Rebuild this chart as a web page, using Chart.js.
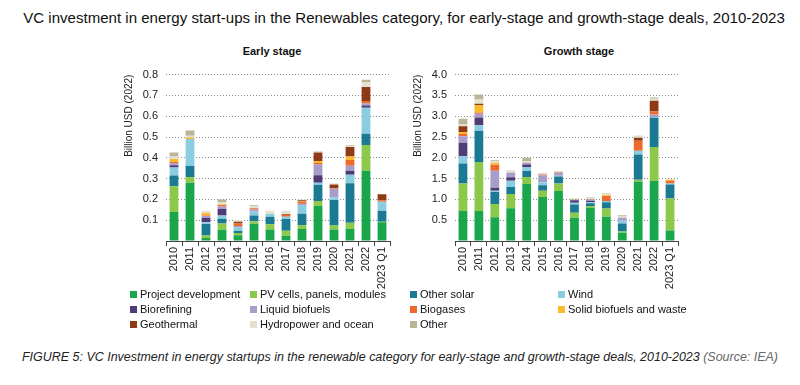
<!DOCTYPE html>
<html><head><meta charset="utf-8">
<script src="https://cdn.jsdelivr.net/npm/chart.js@4/dist/chart.umd.min.js"></script>
<style>
html,body{margin:0;padding:0;background:#fff;width:800px;height:385px;overflow:hidden;font-family:"Liberation Sans",Arial,sans-serif;}
#title{position:absolute;left:0;top:9px;width:808px;text-align:center;font-size:17px;color:#111;white-space:nowrap;}
.sub{position:absolute;top:45px;font-size:11px;font-weight:bold;color:#111;white-space:nowrap;transform:translateX(-50%);}
.cw{position:absolute;}
.lg{position:absolute;font-size:11px;color:#111;white-space:nowrap;line-height:13px;}
.lg i{display:inline-block;width:7px;height:7px;margin-right:3px;vertical-align:0px;}
#cap{position:absolute;left:22px;top:350px;font-size:12.5px;font-style:italic;white-space:nowrap;color:#222;transform-origin:0 0;}
#cap span{color:#666;}
</style></head>
<body>
<div id="title">VC investment in energy start-ups in the Renewables category, for early-stage and growth-stage deals, 2010-2023</div>
<div class="sub" style="left:272px">Early stage</div>
<div class="sub" style="left:579px">Growth stage</div>
<div class="cw" style="left:100px;top:60px;"><canvas id="c1" width="300" height="235"></canvas></div>
<div class="cw" style="left:400px;top:60px;"><canvas id="c2" width="290" height="235"></canvas></div>
<div id="legend"></div>
<div id="cap">FIGURE 5: VC Investment in energy startups in the renewable category for early-stage and growth-stage deals, 2010-2023 <span>(Source: IEA)</span></div>
<script>
const categories = ["2010","2011","2012","2013","2014","2015","2016","2017","2018","2019","2020","2021","2022","2023 Q1"];
const seriesNames = ["Project development","PV cells, panels, modules","Other solar","Wind","Biorefining","Liquid biofuels","Biogases","Solid biofuels and waste","Geothermal","Hydropower and ocean","Other"];
const seriesColors = ["#1aa64b","#8cc84a","#1a7a93","#8bcde0","#4f3b76","#a89cc8","#ee6a2c","#fbb930","#8f3a17","#e4e1d1","#b9b596"];

// Early stage (billion USD 2022)
const earlyProjectDev = [0.14,0.28,0.015,0.054,0.028,0.083,0.055,0.025,0.058,0.168,0.055,0.058,0.338,0.09];
const earlyPV         = [0.123,0.028,0.012,0.03,0.01,0.012,0.025,0.024,0.018,0.024,0.02,0.03,0.124,0.003];
const earlyOtherSolar = [0.052,0.052,0.055,0.023,0.01,0.027,0.037,0.057,0.055,0.078,0.122,0.19,0.054,0.052];
const earlyWind       = [0.038,0.13,0.008,0.015,0.018,0.02,0.013,0.01,0.041,0.01,0.012,0.04,0.125,0.044];
const earlyBiorefining= [0.011,0,0.02,0.032,0,0,0,0,0,0.036,0,0.02,0.01,0];
const earlyLiquid     = [0.01,0,0.01,0.012,0.006,0.01,0,0,0.007,0.052,0.042,0.024,0.01,0];
const earlyBiogases   = [0.006,0,0.003,0.007,0.012,0.006,0,0.01,0.008,0.007,0.003,0.027,0.012,0.006];
const earlySolid      = [0.014,0.008,0.012,0.003,0,0,0,0,0.003,0.01,0,0.017,0,0];
const earlyGeothermal = [0,0,0,0,0.008,0,0,0.004,0.006,0.04,0.018,0.046,0.067,0.03];
const earlyHydro      = [0.012,0.008,0.01,0.012,0.008,0.01,0.015,0.015,0.004,0.005,0.006,0.006,0.022,0];
const earlyOther      = [0.02,0.025,0,0.012,0,0.004,0,0,0,0.003,0,0.004,0.013,0];

// Growth stage (billion USD 2022)
const growthProjectDev = [0.72,0.72,0.57,0.79,1.37,1.06,1.2,0.56,0.8,0.58,0.2,1.43,1.44,0.25];
const growthPV         = [0.66,1.18,0.32,0.34,0.17,0.15,0.18,0.12,0.04,0.2,0.03,0.04,0.82,0.77];
const growthOtherSolar = [0.48,0.75,0.29,0.17,0.14,0.13,0.17,0.2,0.07,0.15,0.19,0.61,0.7,0.34];
const growthWind       = [0.18,0.13,0.03,0.15,0.1,0.07,0.02,0.04,0.02,0.03,0.07,0.09,0.02,0.02];
const growthBiorefining= [0.32,0.19,0.07,0.08,0.06,0,0,0.06,0.04,0,0,0,0,0];
const growthLiquid     = [0.16,0.09,0.41,0.11,0.04,0.17,0.07,0.02,0.03,0,0.07,0,0.06,0];
const growthBiogases   = [0.05,0.03,0.14,0,0,0.02,0.01,0,0.01,0.12,0,0.24,0.08,0.07];
const growthSolid      = [0.05,0.18,0.05,0,0,0,0,0.01,0,0.02,0,0,0,0.02];
const growthGeothermal = [0.14,0.03,0,0,0,0,0,0,0,0,0,0.07,0.25,0];
const growthHydro      = [0.04,0.1,0.04,0.03,0.03,0.04,0.02,0.02,0.03,0.03,0.03,0.03,0.05,0.02];
const growthOther      = [0.14,0.12,0.02,0.02,0.09,0,0.01,0,0.01,0.01,0.03,0.02,0.03,0];

const earlySeries = [earlyProjectDev,earlyPV,earlyOtherSolar,earlyWind,earlyBiorefining,earlyLiquid,earlyBiogases,earlySolid,earlyGeothermal,earlyHydro,earlyOther];
const growthSeries = [growthProjectDev,growthPV,growthOtherSolar,growthWind,growthBiorefining,growthLiquid,growthBiogases,growthSolid,growthGeothermal,growthHydro,growthOther];

const earlyTicks = {max:0.8, step:0.1};
const growthTicks = {max:4.0, step:0.5};

// fit title and caption widths
function fitWidth(el, target){ const w = el.getBoundingClientRect().width; return target / w; }
const t = document.getElementById('title');
{ const sp = document.createElement('span'); sp.textContent = t.textContent; sp.style.cssText='position:absolute;visibility:hidden;font-size:17px;white-space:nowrap;font-family:"Liberation Sans",Arial,sans-serif'; document.body.appendChild(sp); const w = sp.getBoundingClientRect().width; t.style.fontSize = (17*762/w).toFixed(2)+'px'; sp.remove(); }
const cap = document.getElementById('cap');
cap.style.transform = 'scaleX(' + fitWidth(cap, 756).toFixed(4) + ')';

// legend
const legCols = [130, 250, 410, 558];
const legRows = [288, 303, 318];
const leg = document.getElementById('legend');
seriesNames.forEach((n,i)=>{
  const d = document.createElement('div'); d.className='lg';
  d.style.left = legCols[i%4]+'px'; d.style.top = legRows[Math.floor(i/4)]+'px';
  d.innerHTML = '<i style="background:'+seriesColors[i]+'"></i>';
  d.appendChild(document.createTextNode(n));
  leg.appendChild(d);
});

function makeChart(id, series, tk, padL, padR){
  const datasets = series.map((arr,i)=>({label:seriesNames[i], data:arr, backgroundColor:seriesColors[i], borderWidth:0, categoryPercentage:1, barPercentage:0.55}));
  return new Chart(document.getElementById(id), {
    type:'bar',
    data:{labels:categories, datasets},
    options:{
      responsive:false, animation:false, devicePixelRatio:1,
      layout:{padding:{left:padL,right:padR,top:14,bottom:0}},
      plugins:{legend:{display:false}, tooltip:{enabled:false}},
      scales:{
        x:{stacked:true,
           grid:{display:true,drawOnChartArea:false,drawTicks:true,tickLength:5,offset:true,color:'#444'},
           border:{display:true,color:'#444',width:1},
           ticks:{maxRotation:90,minRotation:90,autoSkip:false,padding:1,color:'#222',font:{family:'"Liberation Sans", Arial, sans-serif',size:11}},
           afterFit:(s)=>{s.height=54;}
        },
        y:{stacked:true,min:0,max:tk.max,
           ticks:{stepSize:tk.step,padding:8,color:'#222',font:{family:'"Liberation Sans", Arial, sans-serif',size:11},
                  callback:(v)=> v===0 ? '' : Number(v).toFixed(1)},
           grid:{drawTicks:false,color:(c)=> c.tick && c.tick.value===0 ? 'rgba(0,0,0,0)' : '#8c8c8c',lineWidth:1},
           border:{display:false,dash:[1,2]},
           title:{display:true,text:'Billion USD (2022)',align:'end',color:'#222',padding:{top:4,bottom:4},font:{family:'"Liberation Sans", Arial, sans-serif',size:10}},
           afterFit:(s)=>{s.width=47;}
        }
      }
    }
  });
}
makeChart('c1', earlySeries, earlyTicks, 19, 10);
makeChart('c2', growthSeries, growthTicks, 8, 12);
</script>
</body></html>
